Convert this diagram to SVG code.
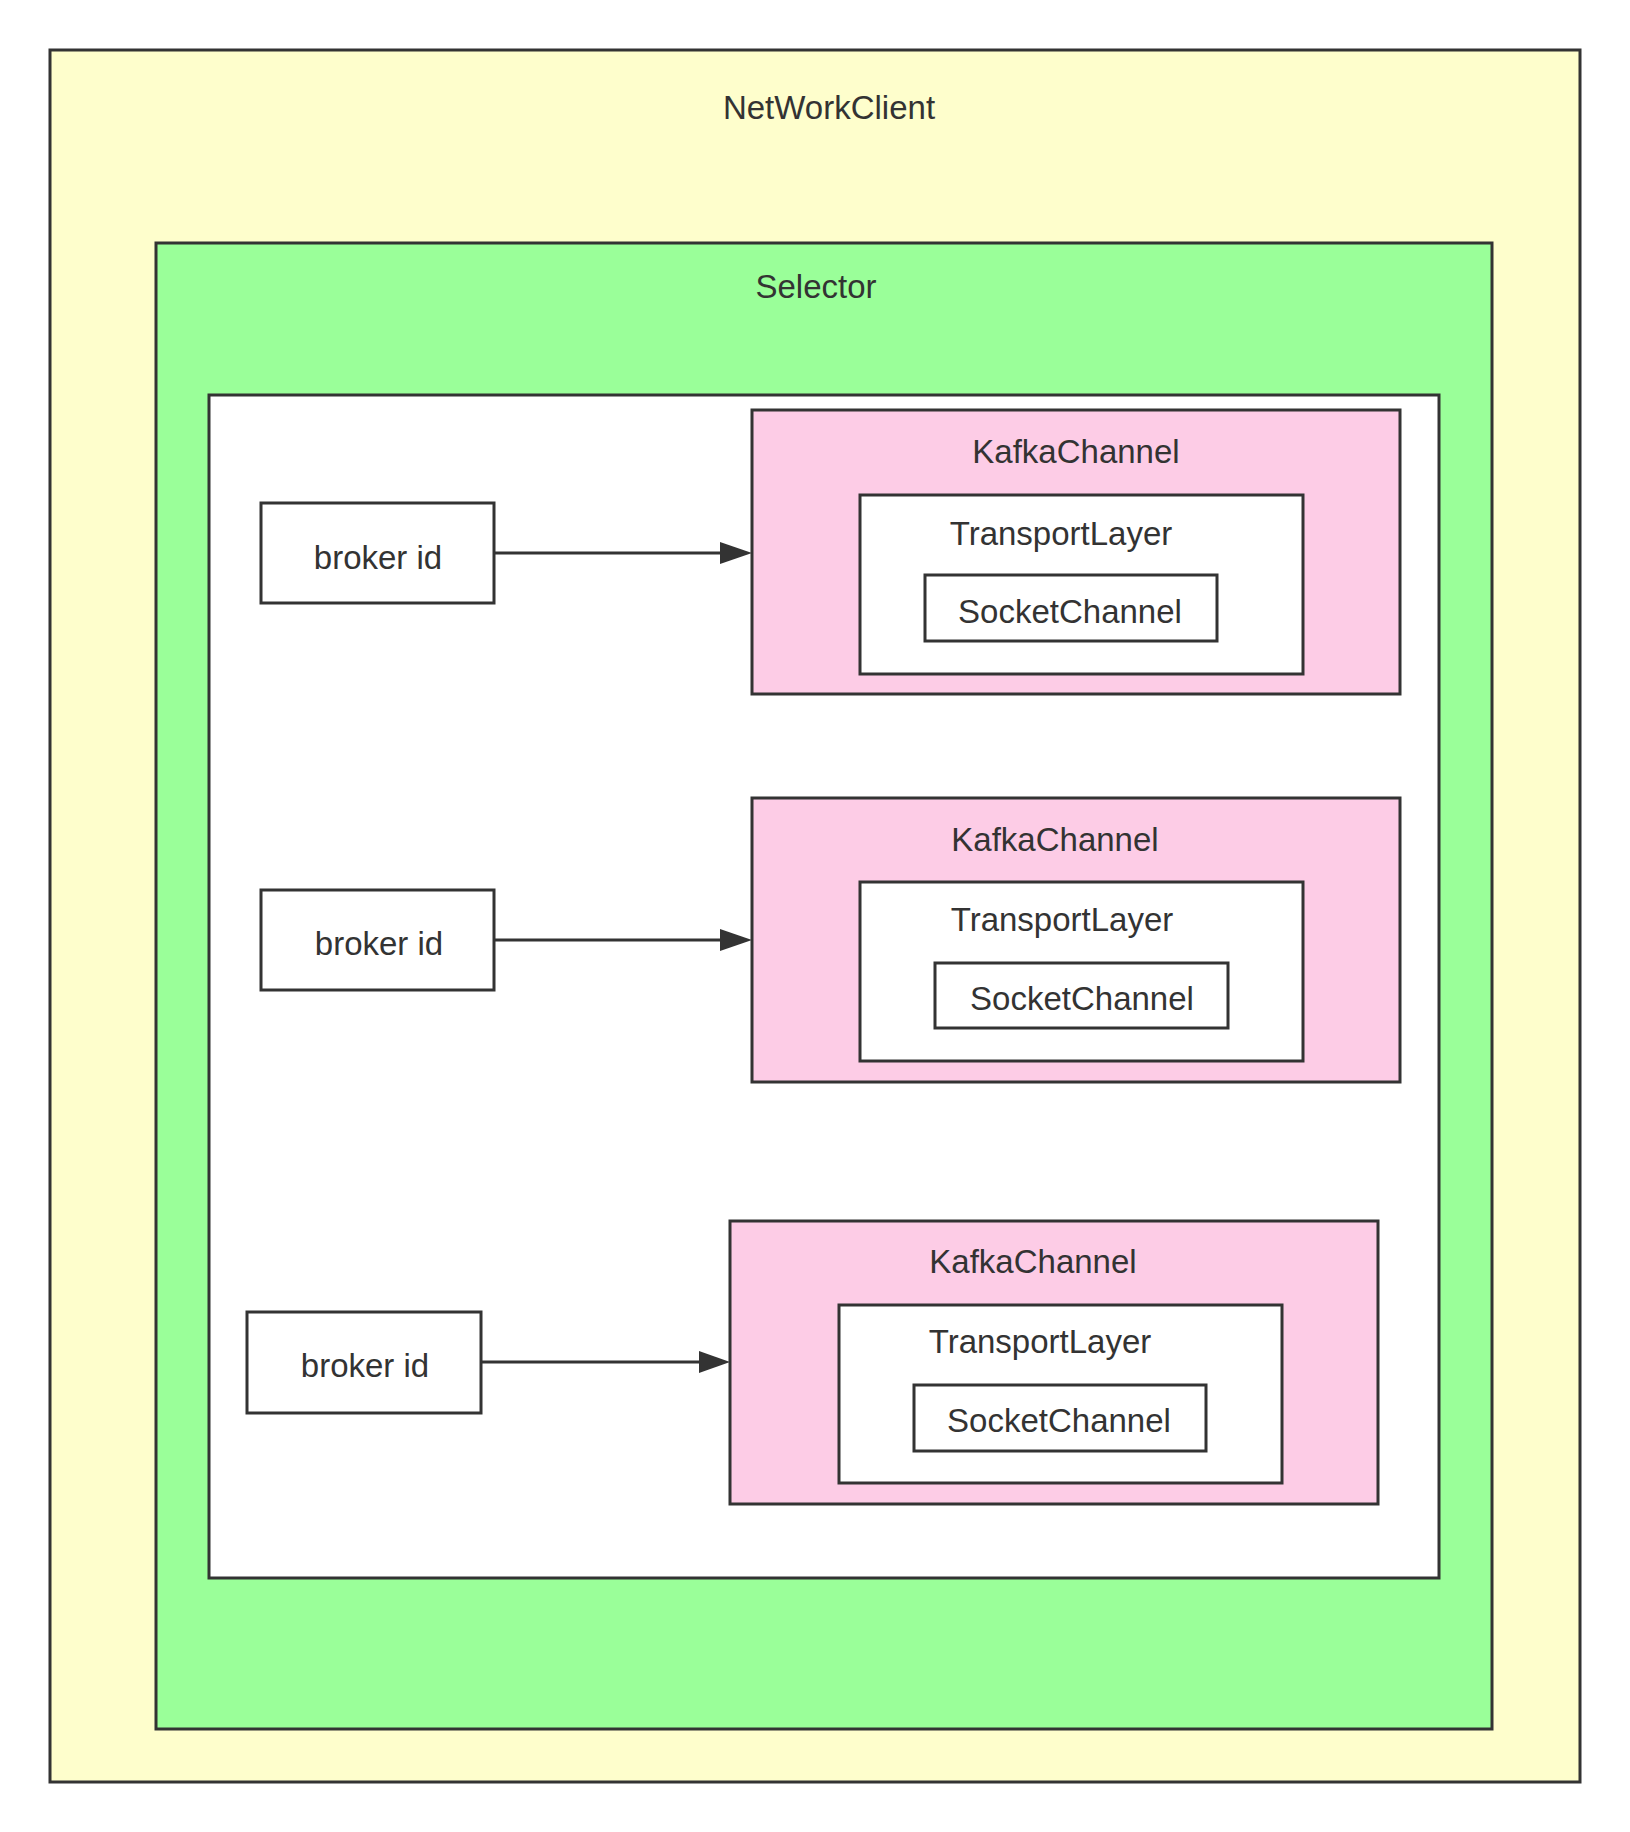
<svg xmlns="http://www.w3.org/2000/svg" width="1630" height="1832" viewBox="0 0 1630 1832">
<style>
.b{stroke:#333;stroke-width:3}
.y{fill:#fefecc}.g{fill:#9aff99}.w{fill:#fff}.p{fill:#fdcce6}
text{font-family:"Liberation Sans",Arial,sans-serif;font-size:33px;fill:#333;text-anchor:middle}
.c line{stroke:#333;stroke-width:3}
.c polygon{fill:#333}
</style>
<rect width="1630" height="1832" fill="#fff"/>
<g id="networkclient"><rect class="b y" x="50" y="50" width="1530" height="1732"/><text x="829" y="119">NetWorkClient</text></g>
<g id="selector"><rect class="b g" x="156" y="243" width="1336" height="1486"/><text x="816" y="298">Selector</text></g>
<g id="map"><rect class="b w" x="209" y="395" width="1230" height="1183"/></g>
<g id="broker1"><rect class="b w" x="261" y="503" width="233" height="100"/><text x="378" y="569">broker id</text></g>
<g id="kafka1"><rect class="b p" x="752" y="410" width="648" height="284"/><text x="1076" y="463">KafkaChannel</text></g>
<g id="transport1"><rect class="b w" x="860" y="495" width="443" height="179"/><text x="1061" y="545">TransportLayer</text></g>
<g id="socket1"><rect class="b w" x="925" y="575" width="292" height="66"/><text x="1070" y="623">SocketChannel</text></g>
<g id="broker2"><rect class="b w" x="261" y="890" width="233" height="100"/><text x="379" y="955">broker id</text></g>
<g id="kafka2"><rect class="b p" x="752" y="798" width="648" height="284"/><text x="1055" y="851">KafkaChannel</text></g>
<g id="transport2"><rect class="b w" x="860" y="882" width="443" height="179"/><text x="1062" y="931">TransportLayer</text></g>
<g id="socket2"><rect class="b w" x="935" y="963" width="293" height="65"/><text x="1082" y="1010">SocketChannel</text></g>
<g id="broker3"><rect class="b w" x="247" y="1312" width="234" height="101"/><text x="365" y="1377">broker id</text></g>
<g id="kafka3"><rect class="b p" x="730" y="1221" width="648" height="283"/><text x="1033" y="1273">KafkaChannel</text></g>
<g id="transport3"><rect class="b w" x="839" y="1305" width="443" height="178"/><text x="1040" y="1353">TransportLayer</text></g>
<g id="socket3"><rect class="b w" x="914" y="1385" width="292" height="66"/><text x="1059" y="1432">SocketChannel</text></g>
<g id="connectors" class="c">
<line x1="494" y1="553" x2="722" y2="553"/><polygon points="720,542 752,553 720,564"/>
<line x1="494" y1="940" x2="722" y2="940"/><polygon points="720,929 752,940 720,951"/>
<line x1="481" y1="1362" x2="701" y2="1362"/><polygon points="699,1351 730,1362 699,1373"/>
</g>
</svg>
